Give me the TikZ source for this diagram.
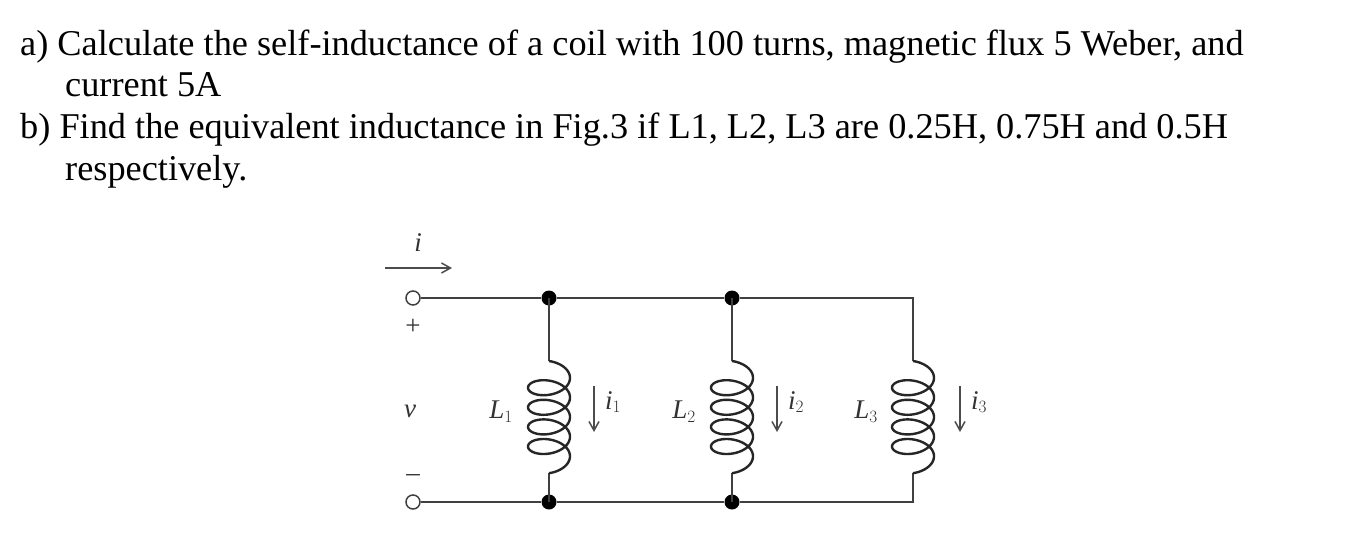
\documentclass[tikz,border=0pt]{standalone}
\usepackage{fontspec}
\setmainfont{Liberation Serif}
\usetikzlibrary{arrows.meta}
\begin{document}
\begin{tikzpicture}[x=1pt,y=-1pt,
  wire/.style={draw=black!75,line width=1.6pt},
  dotn/.style={circle,fill=black,inner sep=0pt,minimum size=15pt},
  term/.style={circle,draw=black!75,line width=1.5pt,fill=white,inner sep=0pt,minimum size=14pt},
  txt/.style={anchor=base west,inner sep=0pt,font=\fontsize{36.3}{40}\selectfont},
  lab/.style={inner sep=0pt,font=\itshape\fontsize{27}{30}\selectfont,text=black!80},
  arr/.style={draw=black!70,line width=1.5pt,-{Straight Barb[length=9pt,width=10pt]}}]
\useasboundingbox (0,0) rectangle (1360,536);
\node[txt] (ta) at (20,55) {a) Calculate the self-inductance of a coil with 100 turns, magnetic flux 5 Weber, and};
\node[txt] (ta2) at (65,96) {current 5A};
\node[txt] (tb) at (20,138) {b) Find the equivalent inductance in Fig.3 if L1, L2, L3 are 0.25H, 0.75H and 0.5H};
\node[txt] (tb2) at (65,180) {respectively.};
% terminals and junctions
\node[term] (tp) at (413,298) {};
\node[term] (tm) at (413,502) {};
\node[dotn] (a1) at (549,298) {};
\node[dotn] (a2) at (732,298) {};
\node[dotn] (b1) at (549,502) {};
\node[dotn] (b2) at (732,502) {};
\coordinate (a3) at (913,298);
\coordinate (b3) at (913,502);
\draw[wire] (tp) -- (a1) -- (a2) -- (a3) -- (913,361);
\draw[wire] (tm) -- (b1) -- (b2) -- (b3) -- (913,473);
\foreach \xw/\n in {549/1,732/2,913/3}{
  \draw[wire] (\xw,298) -- (\xw,361);
  \draw[wire] (\xw,473) -- (\xw,502);
  \draw[line width=2.4pt,black!85] plot[domain=0:1620,samples=240,smooth] ({\xw+21*sin(\x)},{361+\x/360*19.6+12*(1-cos(\x))});
}
% current arrow
\coordinate (ia) at (385,268);
\coordinate (ib) at (452,268);
\draw[arr] (ia) -- (ib);
\node[lab] (il) at (418,243) {i};
\node[lab,font=\fontsize{27}{30}\selectfont] (pl) at (413,327) {+};
\node[lab,font=\fontsize{27}{30}\selectfont] (mi) at (413,478) {--};
\node[lab] (vl) at (410,411) {v};
\node[lab] (L1) at (501,412) {L$_1$};
\node[lab] (L2) at (684,412) {L$_2$};
\node[lab] (L3) at (866,412) {L$_3$};
\foreach \xa/\n in {594/1,777/2,960/3}{
  \coordinate (s\n) at (\xa,386);
  \coordinate (e\n) at (\xa,432);
  \draw[arr] (s\n) -- (e\n);
  \node[lab] (il\n) at (\xa+19,402) {i$_\n$};
}
\end{tikzpicture}
\end{document}
